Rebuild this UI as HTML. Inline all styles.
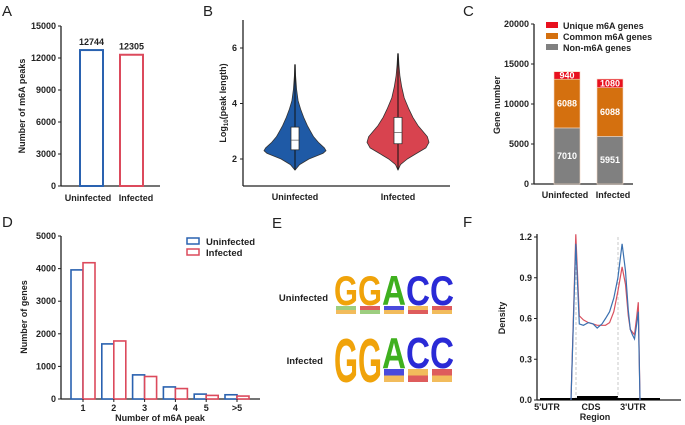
<!DOCTYPE html>
<html><head><meta charset="utf-8"><style>
html,body{margin:0;padding:0;background:#fff;}
svg{display:block;font-family:"Liberation Sans",Arial,sans-serif;}
.t{font-size:9px;font-weight:bold;fill:#222;}
.p{font-size:15px;fill:#222;}
</style></head><body>
<svg id="fig" width="685" height="425" viewBox="0 0 685 425">
<text class="p" x="2" y="16">A</text>
<text class="p" x="203" y="16">B</text>
<text class="p" x="463" y="16">C</text>
<text class="p" x="2" y="227">D</text>
<text class="p" x="272" y="228">E</text>
<text class="p" x="463" y="227">F</text>
</svg>
<script>
// Panel A
const aCats=["Uninfected","Infected"];
const aVals=[12744,12305];
const aTicks=[0,3000,6000,9000,12000,15000];
// Panel B
const bCats=["Uninfected","Infected"];
const bTicks=[2,4,6];
const bVU=[1.6,1.8,2.0,2.2,2.3,2.4,2.6,2.8,3.0,3.2,3.5,3.8,4.1,4.5,5.0,5.4];
const bWU=[0,0.15,0.45,0.9,1,0.95,0.75,0.6,0.5,0.4,0.28,0.18,0.1,0.05,0.02,0.01];
const bVI=[1.6,1.8,2.0,2.2,2.4,2.6,2.8,3.0,3.2,3.5,3.8,4.2,4.6,5.0,5.4,5.8];
const bWI=[0,0.08,0.3,0.6,0.9,1,0.95,0.8,0.65,0.48,0.35,0.2,0.12,0.06,0.03,0.01];
const bBoxU=[2.33,2.68,3.15];
const bBoxI=[2.55,2.95,3.5];
// Panel C
const cCats=["Uninfected","Infected"];
const cNon=[7010,5951];
const cCommon=[6088,6088];
const cUnique=[940,1080];
const cTicks=[0,5000,10000,15000,20000];
// Panel D
const dCats=["1","2","3","4","5",">5"];
const dUn=[3960,1690,740,370,150,130];
const dIn=[4180,1780,690,320,110,90];
const dTicks=[0,1000,2000,3000,4000,5000];
// Panel F
const fPos=[0,0.07,0.12,0.18,0.25,0.32,0.38,0.45,0.5,0.56,0.62,0.68,0.74,0.79,0.83,0.86,0.89,0.92,0.95,0.975,1];
const fBlue=[0,1.15,0.56,0.55,0.57,0.56,0.53,0.56,0.6,0.65,0.75,0.9,1.15,0.95,0.66,0.52,0.48,0.45,0.55,0.65,0];
const fRed=[0,1.22,0.62,0.59,0.57,0.56,0.55,0.55,0.55,0.57,0.65,0.8,0.98,0.85,0.62,0.52,0.5,0.48,0.6,0.72,0];
const fTicks=[0,0.3,0.6,0.9,1.2];

const svg=document.getElementById('fig');
const NS="http://www.w3.org/2000/svg";
function mk(tag,at,txt){const e=document.createElementNS(NS,tag);for(const k in at)e.setAttribute(k,at[k]);if(txt!==undefined)e.textContent=txt;svg.appendChild(e);return e;}
let e;
const BLUE="#2a62b0",RED="#dc4a5c";

// ---------- A ----------
const yA=v=>186-v/15000*160;
e=mk('line',{x1:61,y1:26,x2:61,y2:186,stroke:'#222','stroke-width':1.3});


e=mk('line',{x1:61,y1:186,x2:160,y2:186,stroke:'#222','stroke-width':1.3});


aTicks.forEach(t=>{
  e=mk('line',{x1:58,y1:yA(t),x2:61,y2:yA(t),stroke:'#222'});
  
  
  e=mk('text',{class:'t',x:56,y:yA(t)+3,'text-anchor':'end'},t);
  
  
});
aCats.forEach((c,i)=>{
  const x0=79+i*40,col=i?RED:BLUE;
  e=mk('rect',{x:x0+1,y:yA(aVals[i]),width:23,height:186-yA(aVals[i]),fill:'#fff',stroke:col,'stroke-width':2});
  
  
  e=mk('text',{class:'t',x:x0+12.5,y:yA(aVals[i])-5,'text-anchor':'middle'},aVals[i]);
  
  
  e=mk('text',{class:'t',x:i?136:88,y:201,'text-anchor':'middle'},c);
  
  
});
e=mk('text',{class:'t',x:0,y:0,'text-anchor':'middle',transform:'translate(25,106) rotate(-90)'},'Number of m6A peaks');



// ---------- B ----------
const yB=v=>159-(v-2)*27.75;
e=mk('line',{x1:243,y1:20,x2:243,y2:186,stroke:'#222','stroke-width':1.3});


e=mk('line',{x1:243,y1:186,x2:450,y2:186,stroke:'#222','stroke-width':1.3});


bTicks.forEach(t=>{
  e=mk('line',{x1:240,y1:yB(t),x2:243,y2:yB(t),stroke:'#222'});
  
  
  e=mk('text',{class:'t',x:237,y:yB(t)+3,'text-anchor':'end'},t);
  
  
});
e=mk('text',{class:'t',x:0,y:0,'text-anchor':'middle',transform:'translate(226,103) rotate(-90)'},'');


e.innerHTML='Log<tspan dy="2" font-size="6">10</tspan><tspan dy="-2">(peak length)</tspan>';
function violin(cx,vs,ws,box,col,name){
  let l=[],r=[];
  vs.forEach((v,i)=>{r.push((cx+ws[i]*31).toFixed(1)+','+yB(v).toFixed(1));l.unshift((cx-ws[i]*31).toFixed(1)+','+yB(v).toFixed(1));});
  e=mk('path',{d:'M'+r.join(' L')+' L'+l.join(' L')+'Z',fill:col,stroke:'#333','stroke-width':0.8,'stroke-linejoin':'round'});
  
  
  e=mk('line',{x1:cx,y1:yB(vs[0]),x2:cx,y2:yB(vs[vs.length-1]),stroke:'#111','stroke-width':1});
  
  
  e=mk('rect',{x:cx-4,y:yB(box[2]),width:8,height:yB(box[0])-yB(box[2]),fill:'#fff',stroke:'#222','stroke-width':0.7});
  
  
  e=mk('line',{x1:cx-4,y1:yB(box[1]),x2:cx+4,y2:yB(box[1]),stroke:'#555','stroke-width':0.7});
  
  
}
violin(295,bVU,bWU,bBoxU,'#1f5aa6','b-uninfected');
violin(398,bVI,bWI,bBoxI,'#d8434f','b-infected');
[295,398].forEach((cx,i)=>{
  e=mk('text',{class:'t',x:cx,y:200,'text-anchor':'middle'},bCats[i]);
  
  
});

// ---------- C ----------
const yC=v=>184-v/20000*160;
e=mk('line',{x1:534,y1:24,x2:534,y2:184,stroke:'#222','stroke-width':1.3});


e=mk('line',{x1:534,y1:184,x2:633,y2:184,stroke:'#222','stroke-width':1.3});


cTicks.forEach(t=>{
  e=mk('line',{x1:531,y1:yC(t),x2:534,y2:yC(t),stroke:'#222'});
  
  
  e=mk('text',{class:'t',x:529,y:yC(t)+3,'text-anchor':'end'},t);
  
  
});
e=mk('text',{class:'t',x:0,y:0,'text-anchor':'middle',transform:'translate(500,105) rotate(-90)'},'Gene number');


cCats.forEach((c,i)=>{
  const x0=554+i*43,w=26;
  const segs=[[0,cNon[i],'#808080','non'],[cNon[i],cNon[i]+cCommon[i],'#d4700f','common'],[cNon[i]+cCommon[i],cNon[i]+cCommon[i]+cUnique[i],'#e8101e','unique']];
  const vals=[cNon[i],cCommon[i],cUnique[i]];
  segs.forEach((s,j)=>{
    e=mk('rect',{x:x0,y:yC(s[1]),width:w,height:yC(s[0])-yC(s[1]),fill:s[2],stroke:'#f3d6c0','stroke-width':0.6});
    
    
    e=mk('text',{class:'t',x:x0+w/2,y:(yC(s[0])+yC(s[1]))/2+3,'text-anchor':'middle',style:'fill:#fff'},vals[j]);
    
    
  });
  e=mk('text',{class:'t',x:i?613:565,y:198,'text-anchor':'middle'},c);
  
  
});
[['Unique m6A genes','#e8101e'],['Common m6A genes','#d4700f'],['Non-m6A genes','#808080']].forEach((l,i)=>{
  e=mk('rect',{x:546,y:22+i*11,width:12,height:6,fill:l[1]});
  
  
  e=mk('text',{class:'t',x:563,y:29+i*11},l[0]);
  
  
});

// ---------- D ----------
const yD=v=>399-v/5000*163;
e=mk('line',{x1:61,y1:236,x2:61,y2:399,stroke:'#222','stroke-width':1.3});


e=mk('line',{x1:61,y1:399,x2:260,y2:399,stroke:'#222','stroke-width':1.3});


dTicks.forEach(t=>{
  e=mk('line',{x1:58,y1:yD(t),x2:61,y2:yD(t),stroke:'#222'});
  
  
  e=mk('text',{class:'t',x:56,y:yD(t)+3,'text-anchor':'end'},t);
  
  
});
dCats.forEach((c,i)=>{
  const cx=83+i*30.8;
  e=mk('rect',{x:cx-12,y:yD(dUn[i]),width:12,height:399-yD(dUn[i]),fill:'#fff',stroke:BLUE,'stroke-width':1.6});
  
  
  e=mk('rect',{x:cx,y:yD(dIn[i]),width:12,height:399-yD(dIn[i]),fill:'#fff',stroke:RED,'stroke-width':1.6});
  
  
  e=mk('line',{x1:cx,y1:399,x2:cx,y2:402,stroke:'#222'});
  
  
  e=mk('text',{class:'t',x:cx,y:411,'text-anchor':'middle'},c);
  
  
});
e=mk('text',{class:'t',x:160,y:421,'text-anchor':'middle'},'Number of m6A peak');


e=mk('text',{class:'t',x:0,y:0,'text-anchor':'middle',transform:'translate(27,317) rotate(-90)'},'Number of genes');


[['Uninfected',BLUE],['Infected',RED]].forEach((l,i)=>{
  e=mk('rect',{x:187,y:238+i*11,width:12,height:6,fill:'#fff',stroke:l[1],'stroke-width':1.5});
  
  
  e=mk('text',{class:'t',x:206,y:245+i*11,style:'font-size:9.5px'},l[0]);
  
  
});

// ---------- E ----------
const seq=["G","G","A","C","C"];
const logoCol={G:'#f0a30a',A:'#3fb01e',C:'#2a2ad6',U:'#d61515'};
// [label, labelRight, top, majorBottoms per position, minor stacks]
const logoRows=[
  ["Uninfected",328,275,[305,305,305,305,305],314],
  ["Infected",323,337,[382,382,368,368,368],382]
];
const minorCols=[['#8cc66a','#f0b040'],['#d84040','#8cc66a'],['#2a2ad6','#f0b040'],['#f0b040','#d84040'],['#d84040','#f0b040']];
logoRows.forEach((r,ri)=>{
  e=mk('text',{class:'t',x:r[1],y:ri?364:301,'text-anchor':'end',style:'font-size:9.5px'},r[0]);
  
  
  seq.forEach((s,i)=>{
    const x=334+i*24;
    const bot=r[3][i];
    const h=bot-r[2];
    const fs=h/0.72;
    e=mk('text',{x:x,y:bot,fill:logoCol[s],'font-weight':'bold','font-size':fs.toFixed(1),textLength:24,lengthAdjust:'spacingAndGlyphs'},s);
    
    
    const mh=r[4]-bot;
    if(mh>2){
      e=mk('rect',{x:x+2,y:bot+1,width:20,height:(mh-1)/2,fill:minorCols[i][0],opacity:0.85});
      
      
      e=mk('rect',{x:x+2,y:bot+1+(mh-1)/2,width:20,height:(mh-1)/2,fill:minorCols[i][1],opacity:0.85});
      
      
    }
  });
});

// ---------- F ----------
const yF=v=>400-v/1.2*163;
const xF=p=>571+p*69;
e=mk('line',{x1:537,y1:234,x2:537,y2:400,stroke:'#222','stroke-width':1.3});


e=mk('line',{x1:537,y1:400,x2:681,y2:400,stroke:'#222','stroke-width':1.3});


e=mk('rect',{x:577,y:396,width:41,height:4,fill:'#000'});


e=mk('line',{x1:540,y1:399,x2:660,y2:399,stroke:'#000','stroke-width':2});


fTicks.forEach(t=>{
  e=mk('line',{x1:534,y1:yF(t),x2:537,y2:yF(t),stroke:'#222'});
  
  
  e=mk('text',{class:'t',x:532,y:yF(t)+3,'text-anchor':'end'},t.toFixed(1));
  
  
});
[576,618].forEach(x=>{
  e=mk('line',{x1:x,y1:237,x2:x,y2:398,stroke:'#bbb','stroke-width':0.8,'stroke-dasharray':'3,2'});
  
  
});
[[fRed,'#d9505e','f-line-infected'],[fBlue,'#3a70b0','f-line-uninfected']].forEach(s=>{
  e=mk('polyline',{points:fPos.map((p,i)=>xF(p).toFixed(1)+','+yF(s[0][i]).toFixed(1)).join(' '),fill:'none',stroke:s[1],'stroke-width':1.2});
  
  
});
[["5'UTR",547],["CDS",591],["3'UTR",633]].forEach(l=>{
  e=mk('text',{class:'t',x:l[1],y:410,'text-anchor':'middle'},l[0]);
  
  
});
e=mk('text',{class:'t',x:595,y:420,'text-anchor':'middle'},'Region');


e=mk('text',{class:'t',x:0,y:0,'text-anchor':'middle',transform:'translate(505,318) rotate(-90)'},'Density');


</script>
</body></html>
